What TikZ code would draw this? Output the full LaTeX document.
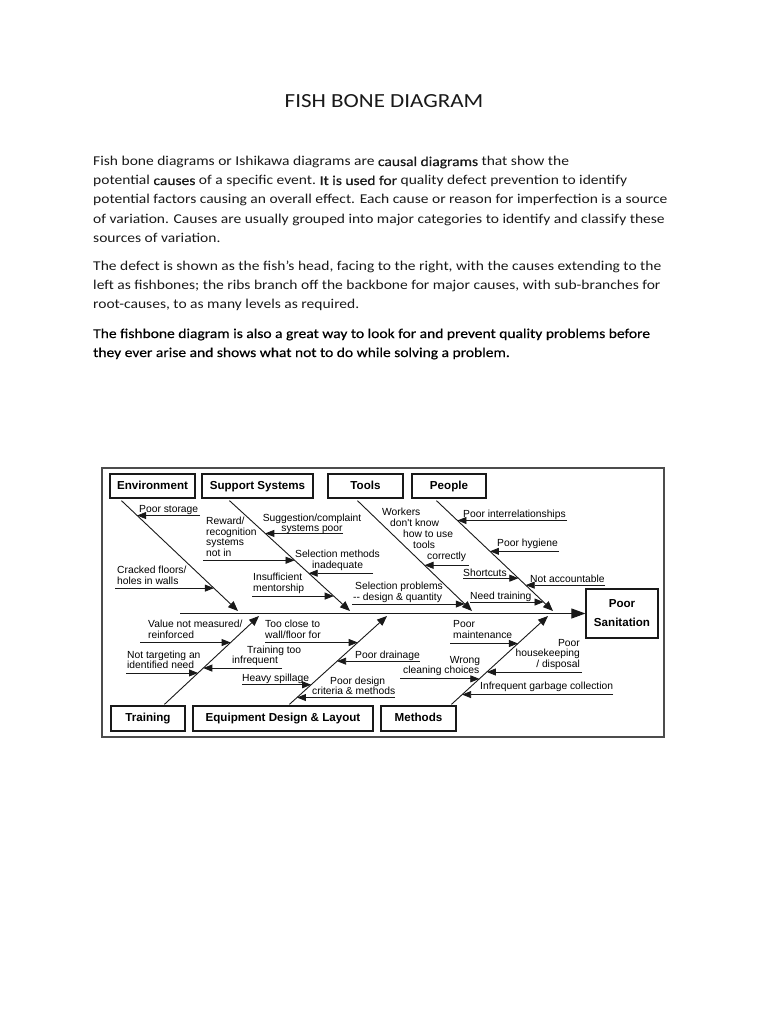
\documentclass[tikz,border=0pt]{standalone}
\usepackage{fontspec}
\setmainfont[FakeStretch=1.15]{Carlito}
\newfontfamily\dfont{Liberation Sans}
\newfontfamily\semib[FakeBold=0.5,FakeStretch=1.15]{Carlito}
\usetikzlibrary{arrows.meta,calc}
\definecolor{bodytext}{gray}{0.1}
\definecolor{inkline}{gray}{0.1}
\begin{document}
\begin{tikzpicture}[x=1pt,y=-1pt,
  body/.style={anchor=base west,inner sep=0pt,text=bodytext,font=\fontsize{13.5}{16}\selectfont},
  lbl/.style={anchor=base west,inner sep=0pt,font=\dfont\fontsize{10.3}{11}\selectfont},
  lblc/.style={lbl,anchor=base},
  lble/.style={lbl,anchor=base east},
  catbox/.style={draw=inkline,line width=1.2pt,inner sep=0pt,text height=8.6pt,text depth=2.4pt,font=\dfont\bfseries\fontsize{11.6}{13}\selectfont},
  bone/.style={draw=inkline,line width=0.9pt,-{Triangle[length=10pt,width=8pt]}},
  spine/.style={draw=inkline,line width=0.9pt,-{Triangle[length=14pt,width=10pt]}},
  cause/.style={draw=inkline,line width=0.8pt,-{Triangle[length=9pt,width=7pt]}},
]
\useasboundingbox[fill=white] (0,0) rectangle (768,1024);

% ---------- text ----------
\node[anchor=base,inner sep=0pt,text=bodytext,font=\fontsize{20}{24}\selectfont] (title) at (384,107.5) {FISH BONE DIAGRAM};

\node[body] (p1a) at (93,166) {Fish bone diagrams or Ishikawa diagrams are {\semib causal diagrams} that show the};
\node[body] (p1b) at (93,185) {\spaceskip=3.5pt plus 20pt\xspaceskip=3.5pt plus 20pt\hbox to 534pt{potential {\semib causes} of a specific event. {\semib It is used for} quality defect prevention to identify}};
\node[body] (p1c) at (93,204) {potential factors causing an overall effect. Each cause or reason for imperfection is a source};
\node[body] (p1d) at (93,223) {of variation. Causes are usually grouped into major categories to identify and classify these};
\node[body] (p1e) at (93,242) {sources of variation.};

\node[body] (p2a) at (93,270.5) {The defect is shown as the fish's head, facing to the right, with the causes extending to the};
\node[body] (p2b) at (93,289.5) {left as fishbones; the ribs branch off the backbone for major causes, with sub-branches for};
\node[body] (p2c) at (93,308.5) {root-causes, to as many levels as required.};

\node[body,text=black] (p3a) at (93,338) {\semib The fishbone diagram is also a great way to look for and prevent quality problems before};
\node[body,text=black] (p3b) at (93,357) {\semib they ever arise and shows what not to do while solving a problem.};

% ---------- frame ----------
\draw[gray!60!black,line width=1.5pt] (102,468) rectangle (664,737);

% ---------- category boxes ----------
\node[catbox,minimum width=85pt,minimum height=24pt] (env) at (152.5,486) {Environment};
\node[catbox,minimum width=111pt,minimum height=24pt] (sup) at (257.5,486) {Support Systems};
\node[catbox,minimum width=75pt,minimum height=24pt] (tool) at (365.5,486) {Tools};
\node[catbox,minimum width=74pt,minimum height=24pt] (peop) at (449,486) {People};
\node[catbox,minimum width=74pt,minimum height=25pt] (trn) at (148,718.5) {Training};
\node[catbox,minimum width=180pt,minimum height=25pt] (equ) at (283,718.5) {Equipment Design \& Layout};
\node[catbox,minimum width=75pt,minimum height=25pt] (meth) at (418.5,718.5) {Methods};
\node[draw=inkline,line width=1.2pt,inner sep=0pt,minimum width=72pt,minimum height=49pt,align=center,font=\dfont\bfseries\fontsize{11.6}{19}\selectfont] (ps) at (622,613.5) {Poor\\Sanitation};

% ---------- backbone ----------
\coordinate (bbS) at (180,613.5);
\draw[spine] (bbS) -- (ps.west);

% ---------- main bones ----------
\coordinate (envS) at ($(env.south west)+(12,2)$);  \coordinate (envE) at (238,611);
\coordinate (supS) at ($(sup.south west)+(28,2)$);  \coordinate (supE) at (350,611);
\coordinate (toolS) at ($(tool.south west)+(30,2)$); \coordinate (toolE) at (472,611);
\coordinate (peopS) at ($(peop.south west)+(25,2)$); \coordinate (peopE) at (553,611);
\coordinate (trnS) at ($(trn.north west)+(54,-1)$);  \coordinate (trnE) at (259,616);
\coordinate (equS) at ($(equ.north west)+(97,-1)$);  \coordinate (equE) at (387,616);
\coordinate (methS) at ($(meth.north west)+(71,-1)$); \coordinate (methE) at (548,616);
\draw[bone] (envS) -- (envE);
\draw[bone] (supS) -- (supE);
\draw[bone] (toolS) -- (toolE);
\draw[bone] (peopS) -- (peopE);
\draw[bone] (trnS) -- (trnE);
\draw[bone] (equS) -- (equE);
\draw[bone] (methS) -- (methE);

% ---------- points on the bones ----------
\coordinate (c1) at ($(envS)!0.1351!(envE)$);
\coordinate (c2) at ($(envS)!0.7928!(envE)$);
\coordinate (c3) at ($(supS)!0.5405!(supE)$);
\coordinate (c4) at ($(supS)!0.2973!(supE)$);
\coordinate (c5) at ($(supS)!0.6577!(supE)$);
\coordinate (c6) at ($(supS)!0.8649!(supE)$);
\coordinate (c7) at ($(toolS)!0.5856!(toolE)$);
\coordinate (c8) at ($(toolS)!0.9369!(toolE)$);
\coordinate (c9) at ($(peopS)!0.1802!(peopE)$);
\coordinate (c10) at ($(peopS)!0.4595!(peopE)$);
\coordinate (c11) at ($(peopS)!0.7027!(peopE)$);
\coordinate (c12) at ($(peopS)!0.7658!(peopE)$);
\coordinate (c13) at ($(peopS)!0.9189!(peopE)$);
\coordinate (c14) at ($(trnS)!0.7!(trnE)$);
\coordinate (c15) at ($(trnS)!0.3556!(trnE)$);
\coordinate (c16) at ($(trnS)!0.4111!(trnE)$);
\coordinate (c17) at ($(equS)!0.7!(equE)$);
\coordinate (c18) at ($(equS)!0.4889!(equE)$);
\coordinate (c19) at ($(equS)!0.2222!(equE)$);
\coordinate (c20) at ($(equS)!0.0778!(equE)$);
\coordinate (c21) at ($(methS)!0.6889!(methE)$);
\coordinate (c22) at ($(methS)!0.3667!(methE)$);
\coordinate (c23) at ($(methS)!0.2889!(methE)$);
\coordinate (c24) at ($(methS)!0.1111!(methE)$);

% ---------- free ends of the cause arrows ----------
\coordinate (f1) at (c1 -| 200,0);
\coordinate (f2) at (c2 -| 115,0);
\coordinate (f3) at (c3 -| 203,0);
\coordinate (f4) at (c4 -| 343,0);
\coordinate (f5) at (c5 -| 373,0);
\coordinate (f6) at (c6 -| 252,0);
\coordinate (f7) at (c7 -| 469,0);
\coordinate (f8) at (c8 -| 352,0);
\coordinate (f9) at (c9 -| 567,0);
\coordinate (f10) at (c10 -| 559,0);
\coordinate (f11) at (c11 -| 463,0);
\coordinate (f12) at (c12 -| 605,0);
\coordinate (f13) at (c13 -| 470,0);
\coordinate (f14) at (c14 -| 140,0);
\coordinate (f15) at (c15 -| 126,0);
\coordinate (f16) at (c16 -| 282,0);
\coordinate (f17) at (c17 -| 265,0);
\coordinate (f18) at (c18 -| 420,0);
\coordinate (f19) at (c19 -| 242,0);
\coordinate (f20) at (c20 -| 395,0);
\coordinate (f21) at (c21 -| 450,0);
\coordinate (f22) at (c22 -| 582,0);
\coordinate (f23) at (c23 -| 400,0);
\coordinate (f24) at (c24 -| 613,0);

\foreach \i in {1,...,24} { \draw[cause] (f\i) -- (c\i); }

% ---------- cause labels ----------
\node[lbl] (t1) at (139,512) {Poor storage};
\node[lbl] (t2a) at (117,573) {Cracked floors/};
\node[lbl] (t2b) at (117,584) {holes in walls};
\node[lbl] (t3a) at (206,524) {Reward/};
\node[lbl] (t3b) at (206,535) {recognition};
\node[lbl] (t3c) at (206,545.5) {systems};
\node[lbl] (t3d) at (206,556.5) {not in};
\node[lblc] (t4a) at (312,521) {Suggestion/complaint};
\node[lblc] (t4b) at (312,531) {systems poor};
\node[lblc] (t5a) at (337.5,557) {Selection methods};
\node[lblc] (t5b) at (337.5,568) {inadequate};
\node[lbl] (t6a) at (253,580) {Insufficient};
\node[lbl] (t6b) at (253,591) {mentorship};
\node[lbl] (t7a) at (382,515) {Workers};
\node[lbl] (t7b) at (390,526) {don't know};
\node[lbl] (t7c) at (403,537) {how to use};
\node[lbl] (t7d) at (413,548) {tools};
\node[lbl] (t7e) at (427,559) {correctly};
\node[lbl] (t8a) at (355,589) {Selection problems};
\node[lbl] (t8b) at (353,600) {-- design \& quantity};
\node[lbl] (t9) at (463,517) {Poor interrelationships};
\node[lbl] (t10) at (497,546) {Poor hygiene};
\node[lbl] (t11) at (463,576) {Shortcuts};
\node[lbl] (t12) at (530,582) {Not accountable};
\node[lbl] (t13) at (470,599) {Need training};

\node[lbl] (t14a) at (148,627) {Value not measured/};
\node[lbl] (t14b) at (148,638) {reinforced};
\node[lbl] (t15a) at (127,658) {Not targeting an};
\node[lbl] (t15b) at (127,668.5) {identified need};
\node[lbl] (t16a) at (247,653) {Training too};
\node[lbl] (t16b) at (232,663.5) {infrequent};
\node[lbl] (t17a) at (265,627) {Too close to};
\node[lbl] (t17b) at (265,638.5) {wall/floor for};
\node[lbl] (t18) at (355,658) {Poor drainage};
\node[lbl] (t19) at (242,681) {Heavy spillage};
\node[lbl] (t20a) at (330,684) {Poor design};
\node[lbl] (t20b) at (312,694.5) {criteria \& methods};
\node[lbl] (t21a) at (453,627) {Poor};
\node[lbl] (t21b) at (453,638) {maintenance};
\node[lble] (t22a) at (580,646) {Poor};
\node[lble] (t22b) at (580,656.5) {housekeeping};
\node[lble] (t22c) at (580,667) {/ disposal};
\node[lblc] (t23a) at (465,663.5) {Wrong};
\node[lbl] (t23b) at (403,673.5) {cleaning choices};
\node[lbl] (t24) at (480,689.5) {Infrequent garbage collection};
\end{tikzpicture}
\end{document}
